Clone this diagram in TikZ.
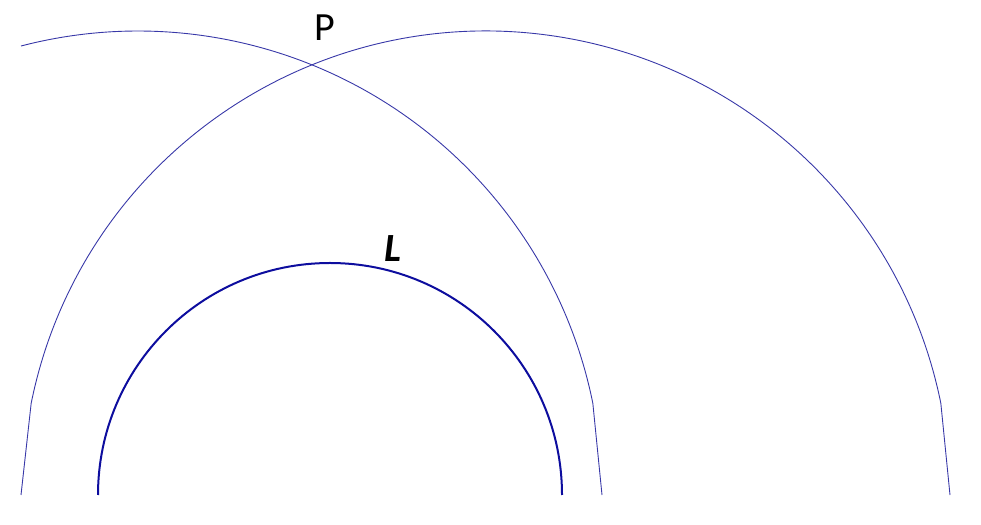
\documentclass[tikz,border=0pt]{standalone}
\usepackage{fontspec}
\setmainfont{Carlito}
\usetikzlibrary{calc}

\definecolor{wavecol}{rgb}{0.22,0.22,0.66}
\definecolor{linecol}{rgb}{0.05,0.05,0.62}

\begin{document}
\begin{tikzpicture}[x=1pt,y=1pt,
    wave/.style={wavecol,line width=0.9pt},
    front/.style={linecol,line width=2pt},
    lbl/.style={inner sep=0pt,anchor=base,font=\fontsize{40}{44}\selectfont}]
            \useasboundingbox (0,0) rectangle (981,524);
            \coordinate (cl) at (138,29);
            \coordinate (cr) at (486,29);
            \coordinate (cm) at (330,29);

            % two wavelets
            \draw[wave] ($(cl)+(104.6:464)$) arc[start angle=104.6,end angle=11.4,radius=464] -- ($(cl)+(464,0)$);
            \draw[wave] ($(cr)+(-465,0)$) -- ($(cr)+(168.6:464)$) arc[start angle=168.6,end angle=11.4,radius=464] -- ($(cr)+(464,0)$);

            % front
            \draw[front] ($(cm)+(-232,0)$) arc[start angle=180,end angle=0,radius=232];

            \node[lbl] (p) at (325,483) {P};
            \node[lbl] (l) at (393,262) {\bfseries\itshape L};
        \end{tikzpicture}
\end{document}
